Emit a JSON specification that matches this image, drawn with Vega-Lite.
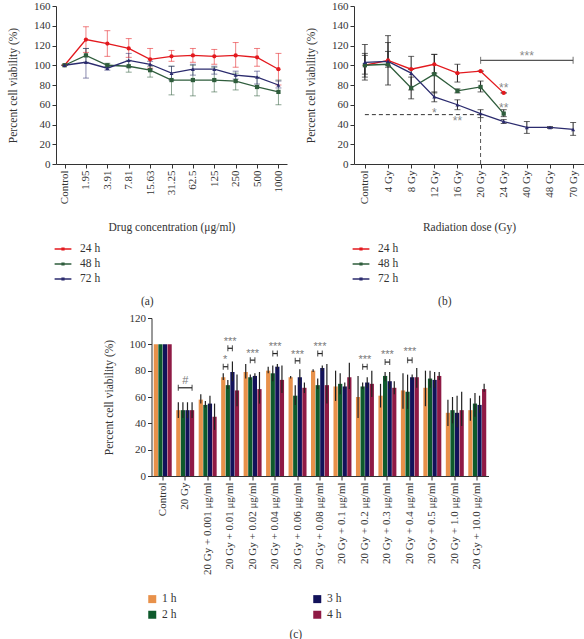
{
  "$schema": "https://vega.github.io/schema/vega-lite/v6.json",
  "background": "white",
  "padding": {"left": 7, "top": 0, "right": 2, "bottom": 2},
  "config": {
    "font": "Liberation Serif",
    "view": {"stroke": null},
    "axis": {
      "labelFont": "Liberation Serif",
      "titleFont": "Liberation Serif",
      "labelFontSize": 11,
      "titleFontSize": 11.5,
      "titleFontWeight": "normal",
      "grid": false,
      "domainColor": "#333",
      "tickColor": "#333",
      "labelColor": "#333",
      "titleColor": "#333",
      "tickSize": 4,
      "labelOverlap": false
    },
    "axisY": {"titlePadding": 15},
    "legend": {
      "labelFont": "Liberation Serif",
      "labelFontSize": 11.5,
      "labelColor": "#333",
      "symbolOpacity": 1
    },
    "title": {"font": "Liberation Serif", "fontSize": 11.5, "fontWeight": "normal", "color": "#333", "frame": "bounds"}
  },
  "vconcat": [
    {
      "hconcat": [
        {
          "width": 231,
          "height": 158,
          "title": {"text": "(a)", "orient": "bottom", "offset": 11},
          "data": {
            "values": [
              {"c": "Control", "t": "24 h", "v": 100, "lo": 100, "hi": 100},
              {"c": "1.95", "t": "24 h", "v": 126, "lo": 113, "hi": 139},
              {"c": "3.91", "t": "24 h", "v": 122, "lo": 109, "hi": 135},
              {"c": "7.81", "t": "24 h", "v": 117, "lo": 108, "hi": 127},
              {"c": "15.63", "t": "24 h", "v": 106, "lo": 97, "hi": 117},
              {"c": "31.25", "t": "24 h", "v": 109, "lo": 104, "hi": 115},
              {"c": "62.5", "t": "24 h", "v": 110, "lo": 103, "hi": 117},
              {"c": "125", "t": "24 h", "v": 109, "lo": 101, "hi": 116},
              {"c": "250", "t": "24 h", "v": 110, "lo": 98, "hi": 123},
              {"c": "500", "t": "24 h", "v": 108, "lo": 99, "hi": 117},
              {"c": "1000", "t": "24 h", "v": 96, "lo": 80, "hi": 112},
              {"c": "Control", "t": "48 h", "v": 100, "lo": 100, "hi": 100},
              {"c": "1.95", "t": "48 h", "v": 110, "lo": 103, "hi": 117},
              {"c": "3.91", "t": "48 h", "v": 100, "lo": 98, "hi": 102},
              {"c": "7.81", "t": "48 h", "v": 99, "lo": 93, "hi": 105},
              {"c": "15.63", "t": "48 h", "v": 95, "lo": 88, "hi": 99},
              {"c": "31.25", "t": "48 h", "v": 85, "lo": 70, "hi": 99},
              {"c": "62.5", "t": "48 h", "v": 85, "lo": 69, "hi": 100},
              {"c": "125", "t": "48 h", "v": 85, "lo": 73, "hi": 98},
              {"c": "250", "t": "48 h", "v": 84, "lo": 75, "hi": 92},
              {"c": "500", "t": "48 h", "v": 78, "lo": 69, "hi": 88},
              {"c": "1000", "t": "48 h", "v": 73, "lo": 60, "hi": 85},
              {"c": "Control", "t": "72 h", "v": 100, "lo": 100, "hi": 100},
              {"c": "1.95", "t": "72 h", "v": 103, "lo": 87, "hi": 117},
              {"c": "3.91", "t": "72 h", "v": 97, "lo": 95, "hi": 99},
              {"c": "7.81", "t": "72 h", "v": 105, "lo": 98, "hi": 112},
              {"c": "15.63", "t": "72 h", "v": 101, "lo": 96, "hi": 104},
              {"c": "31.25", "t": "72 h", "v": 92, "lo": 85, "hi": 99},
              {"c": "62.5", "t": "72 h", "v": 96, "lo": 90, "hi": 101},
              {"c": "125", "t": "72 h", "v": 96, "lo": 91, "hi": 99},
              {"c": "250", "t": "72 h", "v": 90, "lo": 86, "hi": 94},
              {"c": "500", "t": "72 h", "v": 88, "lo": 81, "hi": 94},
              {"c": "1000", "t": "72 h", "v": 80, "lo": 77, "hi": 84}
            ]
          },
          "encoding": {
            "x": {
              "field": "c",
              "type": "ordinal",
              "sort": null,
              "scale": {"type": "point", "padding": 0.4, "domain": ["Control", "1.95", "3.91", "7.81", "15.63", "31.25", "62.5", "125", "250", "500", "1000"]},
              "axis": {"title": "Drug concentration (μg/ml)", "labelAngle": -90, "titlePadding": 18}
            },
            "color": {
              "field": "t",
              "type": "nominal",
              "scale": {"domain": ["24 h", "48 h", "72 h"], "range": ["#E3191E", "#2F5D3C", "#2B2B6E"]},
              "legend": {
                "title": null,
                "orient": "bottom",
                "direction": "vertical",
                "symbolType": "M-1.4,0H1.4M-0.16,-0.16H0.16V0.16H-0.16Z",
                "symbolSize": 144,
                "symbolStrokeWidth": 1.3,
                "labelOffset": 10,
                "rowPadding": 2,
                "offset": 8
              }
            }
          },
          "layer": [
            {
              "mark": {"type": "rule", "opacity": 0.55},
              "encoding": {
                "y": {"field": "lo", "type": "quantitative", "scale": {"domain": [0, 160]}, "axis": {"title": "Percent cell viability (%)", "values": [0, 20, 40, 60, 80, 100, 120, 140, 160]}},
                "y2": {"field": "hi"}
              }
            },
            {
              "mark": {"type": "tick", "size": 6, "thickness": 1, "opacity": 0.55},
              "encoding": {"y": {"field": "lo", "type": "quantitative", "scale": {"domain": [0, 160]}, "axis": {"title": "Percent cell viability (%)", "values": [0, 20, 40, 60, 80, 100, 120, 140, 160]}}}
            },
            {
              "mark": {"type": "tick", "size": 6, "thickness": 1, "opacity": 0.55},
              "encoding": {"y": {"field": "hi", "type": "quantitative", "scale": {"domain": [0, 160]}, "axis": {"title": "Percent cell viability (%)", "values": [0, 20, 40, 60, 80, 100, 120, 140, 160]}}}
            },
            {
              "mark": {"type": "line", "strokeWidth": 1.3},
              "encoding": {"y": {"field": "v", "type": "quantitative", "scale": {"domain": [0, 160]}, "axis": {"title": "Percent cell viability (%)", "values": [0, 20, 40, 60, 80, 100, 120, 140, 160]}}}
            },
            {
              "transform": [{"filter": "datum.t == '24 h'"}],
              "mark": {"type": "point", "shape": "circle", "filled": true, "size": 18, "opacity": 1},
              "encoding": {"y": {"field": "v", "type": "quantitative", "scale": {"domain": [0, 160]}, "axis": {"title": "Percent cell viability (%)", "values": [0, 20, 40, 60, 80, 100, 120, 140, 160]}}}
            },
            {
              "transform": [{"filter": "datum.t == '48 h'"}],
              "mark": {"type": "point", "shape": "square", "filled": true, "size": 18, "opacity": 1},
              "encoding": {"y": {"field": "v", "type": "quantitative", "scale": {"domain": [0, 160]}, "axis": {"title": "Percent cell viability (%)", "values": [0, 20, 40, 60, 80, 100, 120, 140, 160]}}}
            },
            {
              "transform": [{"filter": "datum.t == '72 h'"}],
              "mark": {"type": "point", "shape": "triangle-up", "filled": true, "size": 16, "opacity": 1},
              "encoding": {"y": {"field": "v", "type": "quantitative", "scale": {"domain": [0, 160]}, "axis": {"title": "Percent cell viability (%)", "values": [0, 20, 40, 60, 80, 100, 120, 140, 160]}}}
            }
          ]
        },
        {
          "width": 230,
          "height": 158,
          "title": {"text": "(b)", "orient": "bottom", "offset": 11},
          "encoding": {
            "x": {
              "field": "d",
              "type": "ordinal",
              "sort": null,
              "scale": {"type": "point", "padding": 0.47, "domain": ["Control", "4 Gy", "8 Gy", "12 Gy", "16 Gy", "20 Gy", "24 Gy", "40 Gy", "48 Gy", "70 Gy"]},
              "axis": {"title": "Radiation dose (Gy)", "labelAngle": -90, "titlePadding": 18}
            },
            "y": {"field": "y", "type": "quantitative", "scale": {"domain": [0, 160]}, "axis": {"title": "Percent cell viability (%)", "values": [0, 20, 40, 60, 80, 100, 120, 140, 160]}}
          },
          "layer": [
            {
              "data": {"values": [{"d": "Control", "d2": "20 Gy", "y": 50}]},
              "mark": {"type": "rule", "strokeDash": [4, 3], "color": "#333", "strokeWidth": 1},
              "encoding": {"x2": {"field": "d2"}}
            },
            {
              "data": {"values": [{"d": "20 Gy", "y": 0, "y2": 50}]},
              "mark": {"type": "rule", "strokeDash": [4, 3], "color": "#555", "strokeWidth": 1},
              "encoding": {"y2": {"field": "y2"}}
            },
            {
              "data": {"values": [{"d": "20 Gy", "d2": "70 Gy", "y": 105}]},
              "mark": {"type": "rule", "color": "#555", "strokeWidth": 1.2},
              "encoding": {"x2": {"field": "d2"}}
            },
            {
              "data": {"values": [{"d": "20 Gy", "y": 105}, {"d": "70 Gy", "y": 105}]},
              "mark": {"type": "tick", "orient": "vertical", "size": 7, "thickness": 1.2, "color": "#555"},
              "encoding": {}
            },
            {
              "data": {
                "values": [
                  {"d": "40 Gy", "y": 109, "s": "***"},
                  {"d": "24 Gy", "y": 77, "s": "**"},
                  {"d": "24 Gy", "y": 57, "s": "**"},
                  {"d": "12 Gy", "y": 52, "s": "*"},
                  {"d": "16 Gy", "y": 44, "s": "**"}
                ]
              },
              "mark": {"type": "text", "fontSize": 12, "fill": "#8a8a8a", "font": "Liberation Sans"},
              "encoding": {"text": {"field": "s"}}
            },
            {
              "data": {
                "values": [
                  {"d": "Control", "t": "24 h", "v": 100, "lo": 91, "hi": 110},
                  {"d": "4 Gy", "t": "24 h", "v": 105, "lo": 100, "hi": 123},
                  {"d": "8 Gy", "t": "24 h", "v": 96, "lo": 96, "hi": 96},
                  {"d": "12 Gy", "t": "24 h", "v": 101, "lo": 92, "hi": 111},
                  {"d": "16 Gy", "t": "24 h", "v": 92, "lo": 83, "hi": 101},
                  {"d": "20 Gy", "t": "24 h", "v": 94, "lo": 94, "hi": 94},
                  {"d": "24 Gy", "t": "24 h", "v": 72, "lo": 72, "hi": 72},
                  {"d": "Control", "t": "48 h", "v": 100, "lo": 88, "hi": 112},
                  {"d": "4 Gy", "t": "48 h", "v": 101, "lo": 80, "hi": 114},
                  {"d": "8 Gy", "t": "48 h", "v": 77, "lo": 66, "hi": 88},
                  {"d": "12 Gy", "t": "48 h", "v": 91, "lo": 72, "hi": 111},
                  {"d": "16 Gy", "t": "48 h", "v": 74, "lo": 72, "hi": 76},
                  {"d": "20 Gy", "t": "48 h", "v": 78, "lo": 73, "hi": 84},
                  {"d": "24 Gy", "t": "48 h", "v": 51, "lo": 48, "hi": 55},
                  {"d": "Control", "t": "72 h", "v": 103, "lo": 85, "hi": 121},
                  {"d": "4 Gy", "t": "72 h", "v": 104, "lo": 98, "hi": 130},
                  {"d": "8 Gy", "t": "72 h", "v": 92, "lo": 75, "hi": 109},
                  {"d": "12 Gy", "t": "72 h", "v": 68, "lo": 63, "hi": 73},
                  {"d": "16 Gy", "t": "72 h", "v": 60, "lo": 55, "hi": 65},
                  {"d": "20 Gy", "t": "72 h", "v": 51, "lo": 47, "hi": 55},
                  {"d": "24 Gy", "t": "72 h", "v": 43, "lo": 41, "hi": 45},
                  {"d": "40 Gy", "t": "72 h", "v": 37, "lo": 31, "hi": 43},
                  {"d": "48 Gy", "t": "72 h", "v": 37, "lo": 36, "hi": 38},
                  {"d": "70 Gy", "t": "72 h", "v": 35, "lo": 29, "hi": 42}
                ]
              },
              "encoding": {
                "color": {
                  "field": "t",
                  "type": "nominal",
                  "scale": {"domain": ["24 h", "48 h", "72 h"], "range": ["#E3191E", "#2F5D3C", "#2B2B6E"]},
                  "legend": {
                    "title": null,
                    "orient": "bottom",
                    "direction": "vertical",
                    "symbolType": "M-1.4,0H1.4M-0.16,-0.16H0.16V0.16H-0.16Z",
                    "symbolSize": 144,
                    "symbolStrokeWidth": 1.3,
                    "labelOffset": 10,
                    "rowPadding": 2,
                    "offset": 8
                  }
                }
              },
              "layer": [
                {
                  "mark": {"type": "rule"},
                  "encoding": {
                    "y": {"field": "lo", "type": "quantitative", "scale": {"domain": [0, 160]}, "axis": {"title": "Percent cell viability (%)", "values": [0, 20, 40, 60, 80, 100, 120, 140, 160]}},
                    "y2": {"field": "hi"},
                    "color": {"value": "#222"}
                  }
                },
                {
                  "mark": {"type": "tick", "size": 6, "thickness": 1},
                  "encoding": {"y": {"field": "lo", "type": "quantitative", "scale": {"domain": [0, 160]}, "axis": {"title": "Percent cell viability (%)", "values": [0, 20, 40, 60, 80, 100, 120, 140, 160]}}, "color": {"value": "#222"}}
                },
                {
                  "mark": {"type": "tick", "size": 6, "thickness": 1},
                  "encoding": {"y": {"field": "hi", "type": "quantitative", "scale": {"domain": [0, 160]}, "axis": {"title": "Percent cell viability (%)", "values": [0, 20, 40, 60, 80, 100, 120, 140, 160]}}, "color": {"value": "#222"}}
                },
                {
                  "mark": {"type": "line", "strokeWidth": 1.3},
                  "encoding": {"y": {"field": "v", "type": "quantitative", "scale": {"domain": [0, 160]}, "axis": {"title": "Percent cell viability (%)", "values": [0, 20, 40, 60, 80, 100, 120, 140, 160]}}}
                },
                {
                  "transform": [{"filter": "datum.t == '24 h'"}],
                  "mark": {"type": "point", "shape": "circle", "filled": true, "size": 18, "opacity": 1},
                  "encoding": {"y": {"field": "v", "type": "quantitative", "scale": {"domain": [0, 160]}, "axis": {"title": "Percent cell viability (%)", "values": [0, 20, 40, 60, 80, 100, 120, 140, 160]}}}
                },
                {
                  "transform": [{"filter": "datum.t == '48 h'"}],
                  "mark": {"type": "point", "shape": "square", "filled": true, "size": 18, "opacity": 1},
                  "encoding": {"y": {"field": "v", "type": "quantitative", "scale": {"domain": [0, 160]}, "axis": {"title": "Percent cell viability (%)", "values": [0, 20, 40, 60, 80, 100, 120, 140, 160]}}}
                },
                {
                  "transform": [{"filter": "datum.t == '72 h'"}],
                  "mark": {"type": "point", "shape": "triangle-up", "filled": true, "size": 16, "opacity": 1},
                  "encoding": {"y": {"field": "v", "type": "quantitative", "scale": {"domain": [0, 160]}, "axis": {"title": "Percent cell viability (%)", "values": [0, 20, 40, 60, 80, 100, 120, 140, 160]}}}
                }
              ]
            }
          ]
        }
      ],
      "spacing": 18,
      "resolve": {"scale": {"color": "independent", "x": "independent", "y": "independent"}, "legend": {"color": "independent"}}
    },
    {
      "width": 337,
      "height": 158,
      "title": {"text": "(c)", "orient": "bottom", "offset": 8},
      "encoding": {
        "x": {
          "field": "cat",
          "type": "ordinal",
          "sort": null,
          "scale": {"type": "band", "paddingInner": 0.2, "paddingOuter": 0.1, "domain": ["Control", "20 Gy", "20 Gy + 0.001 μg/ml", "20 Gy + 0.01 μg/ml", "20 Gy + 0.02 μg/ml", "20 Gy + 0.04 μg/ml", "20 Gy + 0.06 μg/ml", "20 Gy + 0.08 μg/ml", "20 Gy + 0.1 μg/ml", "20 Gy + 0.2 μg/ml", "20 Gy + 0.3 μg/ml", "20 Gy + 0.4 μg/ml", "20 Gy + 0.5 μg/ml", "20 Gy + 1.0 μg/ml", "20 Gy + 10.0 μg/ml"]},
          "axis": {"title": null, "labelAngle": -90}
        },
        "y": {"field": "y", "type": "quantitative", "scale": {"domain": [0, 120]}, "axis": {"title": "Percent cell viability (%)", "values": [0, 20, 40, 60, 80, 100, 120]}}
      },
      "layer": [
        {
          "data": {
            "values": [
              {"cat": "Control", "h": "1 h", "v": 100, "lo": 100, "hi": 100},
              {"cat": "Control", "h": "2 h", "v": 100, "lo": 100, "hi": 100},
              {"cat": "Control", "h": "3 h", "v": 100, "lo": 100, "hi": 100},
              {"cat": "Control", "h": "4 h", "v": 100, "lo": 100, "hi": 100},
              {"cat": "20 Gy", "h": "1 h", "v": 50, "lo": 44, "hi": 56},
              {"cat": "20 Gy", "h": "2 h", "v": 50, "lo": 44, "hi": 56},
              {"cat": "20 Gy", "h": "3 h", "v": 50, "lo": 44, "hi": 56},
              {"cat": "20 Gy", "h": "4 h", "v": 50, "lo": 44, "hi": 56},
              {"cat": "20 Gy + 0.001 μg/ml", "h": "1 h", "v": 58, "lo": 55, "hi": 62},
              {"cat": "20 Gy + 0.001 μg/ml", "h": "2 h", "v": 54, "lo": 52, "hi": 57},
              {"cat": "20 Gy + 0.001 μg/ml", "h": "3 h", "v": 55, "lo": 50, "hi": 61},
              {"cat": "20 Gy + 0.001 μg/ml", "h": "4 h", "v": 45, "lo": 35, "hi": 55},
              {"cat": "20 Gy + 0.01 μg/ml", "h": "1 h", "v": 75, "lo": 73, "hi": 78},
              {"cat": "20 Gy + 0.01 μg/ml", "h": "2 h", "v": 69, "lo": 66, "hi": 73},
              {"cat": "20 Gy + 0.01 μg/ml", "h": "3 h", "v": 79, "lo": 72, "hi": 87},
              {"cat": "20 Gy + 0.01 μg/ml", "h": "4 h", "v": 65, "lo": 53, "hi": 77},
              {"cat": "20 Gy + 0.02 μg/ml", "h": "1 h", "v": 79, "lo": 74, "hi": 85},
              {"cat": "20 Gy + 0.02 μg/ml", "h": "2 h", "v": 75, "lo": 73, "hi": 77},
              {"cat": "20 Gy + 0.02 μg/ml", "h": "3 h", "v": 76, "lo": 74, "hi": 78},
              {"cat": "20 Gy + 0.02 μg/ml", "h": "4 h", "v": 66, "lo": 55, "hi": 79},
              {"cat": "20 Gy + 0.04 μg/ml", "h": "1 h", "v": 80, "lo": 78, "hi": 83},
              {"cat": "20 Gy + 0.04 μg/ml", "h": "2 h", "v": 78, "lo": 72, "hi": 84},
              {"cat": "20 Gy + 0.04 μg/ml", "h": "3 h", "v": 83, "lo": 81, "hi": 85},
              {"cat": "20 Gy + 0.04 μg/ml", "h": "4 h", "v": 73, "lo": 63, "hi": 84},
              {"cat": "20 Gy + 0.06 μg/ml", "h": "1 h", "v": 75, "lo": 74, "hi": 76},
              {"cat": "20 Gy + 0.06 μg/ml", "h": "2 h", "v": 61, "lo": 54, "hi": 69},
              {"cat": "20 Gy + 0.06 μg/ml", "h": "3 h", "v": 75, "lo": 69, "hi": 81},
              {"cat": "20 Gy + 0.06 μg/ml", "h": "4 h", "v": 67, "lo": 63, "hi": 71},
              {"cat": "20 Gy + 0.08 μg/ml", "h": "1 h", "v": 80, "lo": 79, "hi": 81},
              {"cat": "20 Gy + 0.08 μg/ml", "h": "2 h", "v": 69, "lo": 66, "hi": 74},
              {"cat": "20 Gy + 0.08 μg/ml", "h": "3 h", "v": 82, "lo": 80, "hi": 84},
              {"cat": "20 Gy + 0.08 μg/ml", "h": "4 h", "v": 69, "lo": 55, "hi": 85},
              {"cat": "20 Gy + 0.1 μg/ml", "h": "1 h", "v": 68, "lo": 57, "hi": 80},
              {"cat": "20 Gy + 0.1 μg/ml", "h": "2 h", "v": 70, "lo": 62, "hi": 78},
              {"cat": "20 Gy + 0.1 μg/ml", "h": "3 h", "v": 68, "lo": 66, "hi": 71},
              {"cat": "20 Gy + 0.1 μg/ml", "h": "4 h", "v": 75, "lo": 66, "hi": 86},
              {"cat": "20 Gy + 0.2 μg/ml", "h": "1 h", "v": 60, "lo": 44, "hi": 76},
              {"cat": "20 Gy + 0.2 μg/ml", "h": "2 h", "v": 68, "lo": 66, "hi": 71},
              {"cat": "20 Gy + 0.2 μg/ml", "h": "3 h", "v": 71, "lo": 67, "hi": 75},
              {"cat": "20 Gy + 0.2 μg/ml", "h": "4 h", "v": 70, "lo": 60, "hi": 80},
              {"cat": "20 Gy + 0.3 μg/ml", "h": "1 h", "v": 61, "lo": 52, "hi": 70},
              {"cat": "20 Gy + 0.3 μg/ml", "h": "2 h", "v": 76, "lo": 72, "hi": 79},
              {"cat": "20 Gy + 0.3 μg/ml", "h": "3 h", "v": 72, "lo": 66, "hi": 79},
              {"cat": "20 Gy + 0.3 μg/ml", "h": "4 h", "v": 67, "lo": 62, "hi": 72},
              {"cat": "20 Gy + 0.4 μg/ml", "h": "1 h", "v": 65, "lo": 51, "hi": 78},
              {"cat": "20 Gy + 0.4 μg/ml", "h": "2 h", "v": 64, "lo": 51, "hi": 77},
              {"cat": "20 Gy + 0.4 μg/ml", "h": "3 h", "v": 75, "lo": 73, "hi": 77},
              {"cat": "20 Gy + 0.4 μg/ml", "h": "4 h", "v": 75, "lo": 67, "hi": 82},
              {"cat": "20 Gy + 0.5 μg/ml", "h": "1 h", "v": 67, "lo": 53, "hi": 80},
              {"cat": "20 Gy + 0.5 μg/ml", "h": "2 h", "v": 74, "lo": 67, "hi": 80},
              {"cat": "20 Gy + 0.5 μg/ml", "h": "3 h", "v": 73, "lo": 67, "hi": 79},
              {"cat": "20 Gy + 0.5 μg/ml", "h": "4 h", "v": 76, "lo": 73, "hi": 79},
              {"cat": "20 Gy + 1.0 μg/ml", "h": "1 h", "v": 48, "lo": 38, "hi": 58},
              {"cat": "20 Gy + 1.0 μg/ml", "h": "2 h", "v": 50, "lo": 40, "hi": 60},
              {"cat": "20 Gy + 1.0 μg/ml", "h": "3 h", "v": 48, "lo": 37, "hi": 61},
              {"cat": "20 Gy + 1.0 μg/ml", "h": "4 h", "v": 50, "lo": 38, "hi": 64},
              {"cat": "20 Gy + 10.0 μg/ml", "h": "1 h", "v": 50, "lo": 42, "hi": 59},
              {"cat": "20 Gy + 10.0 μg/ml", "h": "2 h", "v": 55, "lo": 45, "hi": 63},
              {"cat": "20 Gy + 10.0 μg/ml", "h": "3 h", "v": 54, "lo": 48, "hi": 61},
              {"cat": "20 Gy + 10.0 μg/ml", "h": "4 h", "v": 66, "lo": 64, "hi": 70}
            ]
          },
          "encoding": {
            "xOffset": {"field": "h", "type": "nominal", "scale": {"domain": ["1 h", "2 h", "3 h", "4 h"], "paddingInner": 0.08}}
          },
          "layer": [
            {
              "mark": {"type": "bar"},
              "encoding": {
                "y": {"field": "v", "type": "quantitative", "scale": {"domain": [0, 120]}, "axis": {"title": "Percent cell viability (%)", "values": [0, 20, 40, 60, 80, 100, 120]}},
                "color": {
                  "field": "h",
                  "type": "nominal",
                  "scale": {"domain": ["1 h", "2 h", "3 h", "4 h"], "range": ["#E8914A", "#0E5A2C", "#12125A", "#8F1A45"]},
                  "legend": {
                    "title": " ",
                    "titleOrient": "left",
                    "titlePadding": -5,
                    "orient": "bottom",
                    "direction": "vertical",
                    "columns": 2,
                    "symbolType": "square",
                    "symbolSize": 64,
                    "symbolStrokeWidth": 0,
                    "columnPadding": 135,
                    "rowPadding": 3,
                    "offset": 18
                  }
                }
              }
            },
            {
              "mark": {"type": "rule", "color": "#222", "strokeWidth": 1.2},
              "encoding": {
                "y": {"field": "lo", "type": "quantitative", "scale": {"domain": [0, 120]}, "axis": {"title": "Percent cell viability (%)", "values": [0, 20, 40, 60, 80, 100, 120]}},
                "y2": {"field": "hi"}
              }
            }
          ]
        },
        {
          "data": {
            "values": [
              {"id": "b1", "cat": "20 Gy + 0.01 μg/ml", "h": "1 h", "y": 83},
              {"id": "b1", "cat": "20 Gy + 0.01 μg/ml", "h": "2 h", "y": 83},
              {"id": "b2", "cat": "20 Gy + 0.01 μg/ml", "h": "2 h", "y": 97},
              {"id": "b2", "cat": "20 Gy + 0.01 μg/ml", "h": "3 h", "y": 97},
              {"id": "b3", "cat": "20 Gy + 0.02 μg/ml", "h": "2 h", "y": 88},
              {"id": "b3", "cat": "20 Gy + 0.02 μg/ml", "h": "3 h", "y": 88},
              {"id": "b4", "cat": "20 Gy + 0.04 μg/ml", "h": "2 h", "y": 93},
              {"id": "b4", "cat": "20 Gy + 0.04 μg/ml", "h": "3 h", "y": 93},
              {"id": "b5", "cat": "20 Gy + 0.06 μg/ml", "h": "2 h", "y": 87.5},
              {"id": "b5", "cat": "20 Gy + 0.06 μg/ml", "h": "3 h", "y": 87.5},
              {"id": "b6", "cat": "20 Gy + 0.08 μg/ml", "h": "2 h", "y": 93},
              {"id": "b6", "cat": "20 Gy + 0.08 μg/ml", "h": "3 h", "y": 93},
              {"id": "b7", "cat": "20 Gy + 0.2 μg/ml", "h": "2 h", "y": 83},
              {"id": "b7", "cat": "20 Gy + 0.2 μg/ml", "h": "3 h", "y": 83},
              {"id": "b8", "cat": "20 Gy + 0.3 μg/ml", "h": "2 h", "y": 86.5},
              {"id": "b8", "cat": "20 Gy + 0.3 μg/ml", "h": "3 h", "y": 86.5},
              {"id": "b9", "cat": "20 Gy + 0.4 μg/ml", "h": "2 h", "y": 88},
              {"id": "b9", "cat": "20 Gy + 0.4 μg/ml", "h": "3 h", "y": 88},
              {"id": "b10", "cat": "20 Gy", "h": "1 h", "y": 67},
              {"id": "b10", "cat": "20 Gy", "h": "4 h", "y": 67}
            ]
          },
          "encoding": {
            "xOffset": {"field": "h", "type": "nominal"}
          },
          "layer": [
            {
              "mark": {"type": "line", "color": "#222", "strokeWidth": 1.2},
              "encoding": {"detail": {"field": "id"}}
            },
            {
              "mark": {"type": "tick", "orient": "vertical", "size": 6, "thickness": 1.2, "color": "#222"},
              "encoding": {}
            }
          ]
        },
        {
          "data": {
            "values": [
              {"cat": "20 Gy", "y": 72, "s": "#"},
              {"cat": "20 Gy + 0.01 μg/ml", "y": 102, "s": "***"},
              {"cat": "20 Gy + 0.02 μg/ml", "y": 93, "s": "***"},
              {"cat": "20 Gy + 0.04 μg/ml", "y": 98, "s": "***"},
              {"cat": "20 Gy + 0.06 μg/ml", "y": 92, "s": "***"},
              {"cat": "20 Gy + 0.08 μg/ml", "y": 98, "s": "***"},
              {"cat": "20 Gy + 0.2 μg/ml", "y": 88, "s": "***"},
              {"cat": "20 Gy + 0.3 μg/ml", "y": 92, "s": "***"},
              {"cat": "20 Gy + 0.4 μg/ml", "y": 94, "s": "***"}
            ]
          },
          "mark": {"type": "text", "fontSize": 11, "fill": "#7a7a7a", "font": "Liberation Sans"},
          "encoding": {"text": {"field": "s"}}
        },
        {
          "data": {"values": [{"cat": "20 Gy + 0.01 μg/ml", "h": "1 h", "y": 88, "s": "*"}]},
          "mark": {"type": "text", "fontSize": 11, "fill": "#7a7a7a", "font": "Liberation Sans", "dx": 2},
          "encoding": {
            "xOffset": {"field": "h", "type": "nominal"},
            "text": {"field": "s"}
          }
        }
      ]
    }
  ],
  "center": true,
  "spacing": 4,
  "resolve": {"scale": {"color": "independent", "x": "independent", "y": "independent"}, "legend": {"color": "independent"}}
}
